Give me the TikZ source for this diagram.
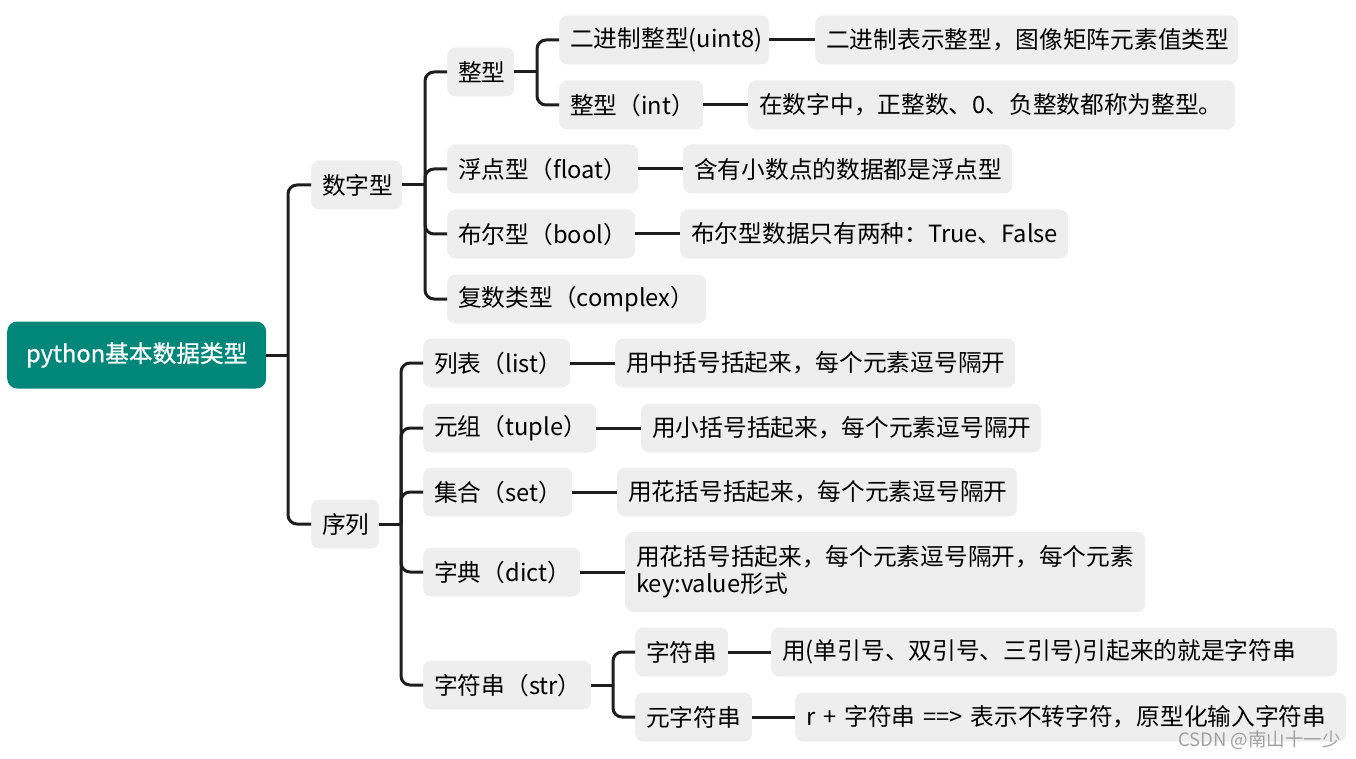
\documentclass[tikz,border=0pt]{standalone}
\usepackage{fontspec}
\setmainfont{Noto Sans CJK SC}
\newfontfamily\rootfont{Noto Sans CJK SC}[FakeBold=0.8]
\definecolor{boxgray}{RGB}{238,238,238}
\definecolor{linec}{RGB}{30,30,30}
\definecolor{rootteal}{RGB}{0,135,122}
\definecolor{wmgray}{RGB}{160,160,160}
\begin{document}
\begin{tikzpicture}[x=1pt,y=-1pt,
  box/.style={fill=boxgray, rounded corners=8pt, inner xsep=11pt, inner ysep=0pt,
    minimum height=49pt, anchor=west, align=left, text=black,
    font=\fontsize{23.7}{30}\selectfont},
  rootbox/.style={fill=rootteal, rounded corners=10pt, inner sep=0pt,
    minimum width=259pt, minimum height=67pt, anchor=west, text=white,
    font=\fontsize{23.7}{30}\selectfont\rootfont},
  link/.style={draw=linec, line width=3pt, rounded corners=9pt},
  wm/.style={text=wmgray, font=\fontsize{18.5}{22}\selectfont, anchor=east, inner sep=0pt}]
\useasboundingbox (0,0) rectangle (1356,759);

% nodes
\node[rootbox] (root) at (7,355) {python基本数据类型};
\node[box, text width=69pt] (n1) at (311,185) {数字型};
\node[box, text width=46pt] (n2) at (311,524) {序列};

\node[box, text width=45pt] (a) at (447,72) {整型};
\node[box, text width=188pt] (a1) at (559,40) {二进制整型(uint8)};
\node[box, text width=401pt] (a1l) at (815,40) {二进制表示整型，图像矩阵元素值类型};
\node[box, text width=122pt] (a2) at (559,105) {整型（int）};
\node[box, text width=465pt] (a2l) at (748,105) {在数字中，正整数、0、负整数都称为整型。};
\node[box, text width=169pt] (b) at (447,169) {浮点型（float）};
\node[box, text width=307pt] (bl) at (683,169) {含有小数点的数据都是浮点型};
\node[box, text width=166pt] (c) at (447,234) {布尔型（bool）};
\node[box, text width=366pt] (cl) at (680,234) {布尔型数据只有两种：True、False};
\node[box, text width=237pt] (d) at (447,299) {复数类型（complex）};

\node[box, text width=125pt] (s1) at (423,363) {列表（list）};
\node[box, text width=378pt] (s1l) at (615,363) {用中括号括起来，每个元素逗号隔开};
\node[box, text width=151pt] (s2) at (423,428) {元组（tuple）};
\node[box, text width=378pt] (s2l) at (641,428) {用小括号括起来，每个元素逗号隔开};
\node[box, text width=127pt] (s3) at (423,492) {集合（set）};
\node[box, text width=378pt] (s3l) at (617,492) {用花括号括起来，每个元素逗号隔开};
\node[box, text width=135pt] (s4) at (423,572) {字典（dict）};
\node[box, text width=498pt, minimum height=80pt, font=\fontsize{23.7}{27}\selectfont] (s4l) at (625,572) {用花括号括起来，每个元素逗号隔开，每个元素\\key:value形式};
\node[box, text width=146pt] (s5) at (423,685) {字符串（str）};
\node[box, text width=71pt] (s51) at (635,652) {字符串};
\node[box, text width=544pt] (s51l) at (771,652) {用(单引号、双引号、三引号)引起来的就是字符串};
\node[box, text width=95pt] (s52) at (635,717) {元字符串};
\node[box, text width=529pt] (s52l) at (795,717) {r + 字符串 ==> 表示不转字符，原型化输入字符串};

% trunk coordinates
\coordinate (t0) at (288,355);
\coordinate (t1) at (425,185);
\coordinate (t2) at (401,524);
\coordinate (ta) at (537,72);
\coordinate (t5) at (613,685);

% root branches
\draw[link] (root.east) -- (t0);
\foreach \c in {n1,n2} \draw[link] (t0) |- (\c.west);
% 数字型 branches
\draw[link] (n1.east) -- (t1);
\foreach \c in {a,b,c,d} \draw[link] (t1) |- (\c.west);
% 整型 branches
\draw[link] (a.east) -- (ta);
\foreach \c in {a1,a2} \draw[link] (ta) |- (\c.west);
% 序列 branches
\draw[link] (n2.east) -- (t2);
\foreach \c in {s1,s2,s3,s4,s5} \draw[link] (t2) |- (\c.west);
% 字符串 branches
\draw[link] (s5.east) -- (t5);
\foreach \c in {s51,s52} \draw[link] (t5) |- (\c.west);

% leaf links
\draw[link] (a1.east) -- (a1l.west);
\draw[link] (a2.east) -- (a2l.west);
\draw[link] (b.east) -- (bl.west);
\draw[link] (c.east) -- (cl.west);
\draw[link] (s1.east) -- (s1l.west);
\draw[link] (s2.east) -- (s2l.west);
\draw[link] (s3.east) -- (s3l.west);
\draw[link] (s4.east) -- (s4l.west);
\draw[link] (s51.east) -- (s51l.west);
\draw[link] (s52.east) -- (s52l.west);

% watermark
\node[wm] (wm) at (1341,740) {CSDN @南山十一少};
\end{tikzpicture}
\end{document}
